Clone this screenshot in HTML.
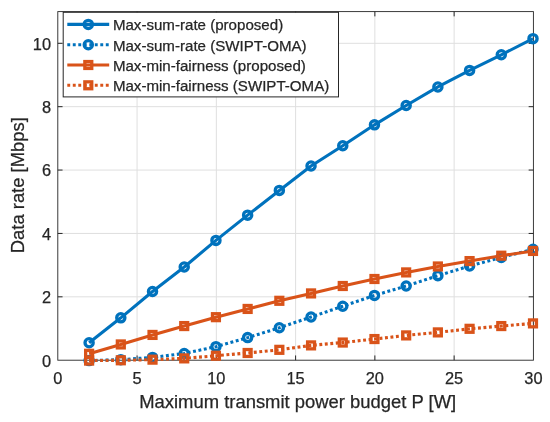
<!DOCTYPE html><html><head><meta charset="utf-8"><title>Data rate vs power budget</title>
<style>html,body{margin:0;padding:0;background:#fff;}svg{display:block;}text{font-family:"Liberation Sans",Arial,Helvetica,sans-serif;fill:#262626;stroke:#262626;stroke-width:0.25px;}</style></head><body>
<svg width="550" height="422" viewBox="0 0 550 422">
<rect width="550" height="422" fill="#fff"/>
<path d="M137.07 11.61V360.20M216.33 11.61V360.20M295.60 11.61V360.20M374.87 11.61V360.20M454.13 11.61V360.20M57.80 296.82H533.40M57.80 233.44H533.40M57.80 170.06H533.40M57.80 106.68H533.40M57.80 43.30H533.40" stroke="#dfdfdf" stroke-width="1" fill="none"/>
<rect x="57.80" y="11.61" width="475.60" height="348.59" fill="none" stroke="#262626" stroke-width="0.9"/>
<path d="M137.07 360.20v-4.75M137.07 11.61v4.75M216.33 360.20v-4.75M216.33 11.61v4.75M295.60 360.20v-4.75M295.60 11.61v4.75M374.87 360.20v-4.75M374.87 11.61v4.75M454.13 360.20v-4.75M454.13 11.61v4.75M57.80 296.82h4.75M533.40 296.82h-4.75M57.80 233.44h4.75M533.40 233.44h-4.75M57.80 170.06h4.75M533.40 170.06h-4.75M57.80 106.68h4.75M533.40 106.68h-4.75M57.80 43.30h4.75M533.40 43.30h-4.75" stroke="#262626" stroke-width="1" fill="none"/>
<polyline points="89.11,342.70 120.81,317.82 152.52,291.52 184.23,266.99 215.93,240.40 247.64,215.14 279.35,190.42 311.05,166.02 342.76,145.74 374.47,124.83 406.17,105.50 437.88,86.96 469.59,70.41 501.29,54.79 533.00,38.63" fill="none" stroke="#0072BD" stroke-width="3.1" stroke-linejoin="round"/>
<circle cx="89.11" cy="342.70" r="4.1" fill="none" stroke="#0072BD" stroke-width="3.3"/>
<circle cx="120.81" cy="317.82" r="4.1" fill="none" stroke="#0072BD" stroke-width="3.3"/>
<circle cx="152.52" cy="291.52" r="4.1" fill="none" stroke="#0072BD" stroke-width="3.3"/>
<circle cx="184.23" cy="266.99" r="4.1" fill="none" stroke="#0072BD" stroke-width="3.3"/>
<circle cx="215.93" cy="240.40" r="4.1" fill="none" stroke="#0072BD" stroke-width="3.3"/>
<circle cx="247.64" cy="215.14" r="4.1" fill="none" stroke="#0072BD" stroke-width="3.3"/>
<circle cx="279.35" cy="190.42" r="4.1" fill="none" stroke="#0072BD" stroke-width="3.3"/>
<circle cx="311.05" cy="166.02" r="4.1" fill="none" stroke="#0072BD" stroke-width="3.3"/>
<circle cx="342.76" cy="145.74" r="4.1" fill="none" stroke="#0072BD" stroke-width="3.3"/>
<circle cx="374.47" cy="124.83" r="4.1" fill="none" stroke="#0072BD" stroke-width="3.3"/>
<circle cx="406.17" cy="105.50" r="4.1" fill="none" stroke="#0072BD" stroke-width="3.3"/>
<circle cx="437.88" cy="86.96" r="4.1" fill="none" stroke="#0072BD" stroke-width="3.3"/>
<circle cx="469.59" cy="70.41" r="4.1" fill="none" stroke="#0072BD" stroke-width="3.3"/>
<circle cx="501.29" cy="54.79" r="4.1" fill="none" stroke="#0072BD" stroke-width="3.3"/>
<circle cx="533.00" cy="38.63" r="4.1" fill="none" stroke="#0072BD" stroke-width="3.3"/>
<polyline points="89.11,360.60 120.81,359.65 152.52,357.43 184.23,353.47 215.93,346.66 247.64,337.62 279.35,327.80 311.05,316.99 342.76,306.25 374.47,295.41 406.17,286.00 437.88,275.67 469.59,266.01 501.29,257.42 533.00,249.37" fill="none" stroke="#0072BD" stroke-width="3.1" stroke-linejoin="round" stroke-dasharray="2.9 2.6"/>
<circle cx="89.11" cy="360.60" r="4.1" fill="none" stroke="#0072BD" stroke-width="3.3"/>
<circle cx="120.81" cy="359.65" r="4.1" fill="none" stroke="#0072BD" stroke-width="3.3"/>
<circle cx="152.52" cy="357.43" r="4.1" fill="none" stroke="#0072BD" stroke-width="3.3"/>
<circle cx="184.23" cy="353.47" r="4.1" fill="none" stroke="#0072BD" stroke-width="3.3"/>
<circle cx="215.93" cy="346.66" r="4.1" fill="none" stroke="#0072BD" stroke-width="3.3"/>
<circle cx="247.64" cy="337.62" r="4.1" fill="none" stroke="#0072BD" stroke-width="3.3"/>
<circle cx="279.35" cy="327.80" r="4.1" fill="none" stroke="#0072BD" stroke-width="3.3"/>
<circle cx="311.05" cy="316.99" r="4.1" fill="none" stroke="#0072BD" stroke-width="3.3"/>
<circle cx="342.76" cy="306.25" r="4.1" fill="none" stroke="#0072BD" stroke-width="3.3"/>
<circle cx="374.47" cy="295.41" r="4.1" fill="none" stroke="#0072BD" stroke-width="3.3"/>
<circle cx="406.17" cy="286.00" r="4.1" fill="none" stroke="#0072BD" stroke-width="3.3"/>
<circle cx="437.88" cy="275.67" r="4.1" fill="none" stroke="#0072BD" stroke-width="3.3"/>
<circle cx="469.59" cy="266.01" r="4.1" fill="none" stroke="#0072BD" stroke-width="3.3"/>
<circle cx="501.29" cy="257.42" r="4.1" fill="none" stroke="#0072BD" stroke-width="3.3"/>
<circle cx="533.00" cy="249.37" r="4.1" fill="none" stroke="#0072BD" stroke-width="3.3"/>
<polyline points="89.11,353.79 120.81,344.44 152.52,334.93 184.23,326.06 215.93,317.18 247.64,308.95 279.35,300.80 311.05,293.42 342.76,286.00 374.47,279.00 406.17,272.41 437.88,266.48 469.59,261.09 501.29,255.71 533.00,250.95" fill="none" stroke="#D95319" stroke-width="3.1" stroke-linejoin="round"/>
<rect x="85.66" y="350.34" width="6.9" height="6.9" fill="none" stroke="#D95319" stroke-width="3.3"/>
<rect x="117.36" y="340.99" width="6.9" height="6.9" fill="none" stroke="#D95319" stroke-width="3.3"/>
<rect x="149.07" y="331.48" width="6.9" height="6.9" fill="none" stroke="#D95319" stroke-width="3.3"/>
<rect x="180.78" y="322.61" width="6.9" height="6.9" fill="none" stroke="#D95319" stroke-width="3.3"/>
<rect x="212.48" y="313.73" width="6.9" height="6.9" fill="none" stroke="#D95319" stroke-width="3.3"/>
<rect x="244.19" y="305.50" width="6.9" height="6.9" fill="none" stroke="#D95319" stroke-width="3.3"/>
<rect x="275.90" y="297.35" width="6.9" height="6.9" fill="none" stroke="#D95319" stroke-width="3.3"/>
<rect x="307.60" y="289.97" width="6.9" height="6.9" fill="none" stroke="#D95319" stroke-width="3.3"/>
<rect x="339.31" y="282.55" width="6.9" height="6.9" fill="none" stroke="#D95319" stroke-width="3.3"/>
<rect x="371.02" y="275.55" width="6.9" height="6.9" fill="none" stroke="#D95319" stroke-width="3.3"/>
<rect x="402.72" y="268.96" width="6.9" height="6.9" fill="none" stroke="#D95319" stroke-width="3.3"/>
<rect x="434.43" y="263.03" width="6.9" height="6.9" fill="none" stroke="#D95319" stroke-width="3.3"/>
<rect x="466.14" y="257.64" width="6.9" height="6.9" fill="none" stroke="#D95319" stroke-width="3.3"/>
<rect x="497.84" y="252.26" width="6.9" height="6.9" fill="none" stroke="#D95319" stroke-width="3.3"/>
<rect x="529.55" y="247.50" width="6.9" height="6.9" fill="none" stroke="#D95319" stroke-width="3.3"/>
<polyline points="89.11,360.60 120.81,360.28 152.52,359.65 184.23,358.38 215.93,355.72 247.64,352.99 279.35,349.83 311.05,345.39 342.76,342.54 374.47,339.05 406.17,335.41 437.88,332.40 469.59,328.81 501.29,326.06 533.00,323.40" fill="none" stroke="#D95319" stroke-width="3.1" stroke-linejoin="round" stroke-dasharray="2.9 2.6"/>
<rect x="85.66" y="357.15" width="6.9" height="6.9" fill="none" stroke="#D95319" stroke-width="3.3"/>
<rect x="117.36" y="356.83" width="6.9" height="6.9" fill="none" stroke="#D95319" stroke-width="3.3"/>
<rect x="149.07" y="356.20" width="6.9" height="6.9" fill="none" stroke="#D95319" stroke-width="3.3"/>
<rect x="180.78" y="354.93" width="6.9" height="6.9" fill="none" stroke="#D95319" stroke-width="3.3"/>
<rect x="212.48" y="352.27" width="6.9" height="6.9" fill="none" stroke="#D95319" stroke-width="3.3"/>
<rect x="244.19" y="349.54" width="6.9" height="6.9" fill="none" stroke="#D95319" stroke-width="3.3"/>
<rect x="275.90" y="346.38" width="6.9" height="6.9" fill="none" stroke="#D95319" stroke-width="3.3"/>
<rect x="307.60" y="341.94" width="6.9" height="6.9" fill="none" stroke="#D95319" stroke-width="3.3"/>
<rect x="339.31" y="339.09" width="6.9" height="6.9" fill="none" stroke="#D95319" stroke-width="3.3"/>
<rect x="371.02" y="335.60" width="6.9" height="6.9" fill="none" stroke="#D95319" stroke-width="3.3"/>
<rect x="402.72" y="331.96" width="6.9" height="6.9" fill="none" stroke="#D95319" stroke-width="3.3"/>
<rect x="434.43" y="328.95" width="6.9" height="6.9" fill="none" stroke="#D95319" stroke-width="3.3"/>
<rect x="466.14" y="325.36" width="6.9" height="6.9" fill="none" stroke="#D95319" stroke-width="3.3"/>
<rect x="497.84" y="322.61" width="6.9" height="6.9" fill="none" stroke="#D95319" stroke-width="3.3"/>
<rect x="529.55" y="319.95" width="6.9" height="6.9" fill="none" stroke="#D95319" stroke-width="3.3"/>
<text x="57.80" y="383.5" font-size="16.4" text-anchor="middle">0</text>
<text x="137.07" y="383.5" font-size="16.4" text-anchor="middle">5</text>
<text x="216.33" y="383.5" font-size="16.4" text-anchor="middle">10</text>
<text x="295.60" y="383.5" font-size="16.4" text-anchor="middle">15</text>
<text x="374.87" y="383.5" font-size="16.4" text-anchor="middle">20</text>
<text x="454.13" y="383.5" font-size="16.4" text-anchor="middle">25</text>
<text x="533.40" y="383.5" font-size="16.4" text-anchor="middle">30</text>
<text x="51.0" y="366.50" font-size="16.4" text-anchor="end">0</text>
<text x="51.0" y="303.12" font-size="16.4" text-anchor="end">2</text>
<text x="51.0" y="239.74" font-size="16.4" text-anchor="end">4</text>
<text x="51.0" y="176.36" font-size="16.4" text-anchor="end">6</text>
<text x="51.0" y="112.98" font-size="16.4" text-anchor="end">8</text>
<text x="51.0" y="49.60" font-size="16.4" text-anchor="end">10</text>
<text x="139.2" y="408.3" font-size="18.43">Maximum transmit power budget P [W]</text>
<text transform="translate(24.3 253.2) rotate(-90)" font-size="18.4">Data rate [Mbps]</text>
<rect x="63.2" y="12.3" width="275.30" height="84.60" fill="#fff" stroke="#262626" stroke-width="1"/>
<path d="M67.3 24.4H109.2" stroke="#0072BD" stroke-width="3.1" fill="none"/>
<circle cx="88.30" cy="24.40" r="4.1" fill="none" stroke="#0072BD" stroke-width="3.3"/>
<text x="112.9" y="30" font-size="15.1" fill="#000">Max-sum-rate (proposed)</text>
<path d="M67.3 44.7H109.2" stroke="#0072BD" stroke-width="3.1" fill="none" stroke-dasharray="2.9 2.6"/>
<circle cx="88.30" cy="44.70" r="4.1" fill="none" stroke="#0072BD" stroke-width="3.3"/>
<text x="112.9" y="51" font-size="15.1" fill="#000">Max-sum-rate (SWIPT-OMA)</text>
<path d="M67.3 65.0H109.2" stroke="#D95319" stroke-width="3.1" fill="none"/>
<rect x="84.85" y="61.55" width="6.9" height="6.9" fill="none" stroke="#D95319" stroke-width="3.3"/>
<text x="112.9" y="71" font-size="15.1" fill="#000">Max-min-fairness (proposed)</text>
<path d="M67.3 85.3H109.2" stroke="#D95319" stroke-width="3.1" fill="none" stroke-dasharray="2.9 2.6"/>
<rect x="84.85" y="81.85" width="6.9" height="6.9" fill="none" stroke="#D95319" stroke-width="3.3"/>
<text x="112.9" y="91" font-size="15.1" fill="#000">Max-min-fairness (SWIPT-OMA)</text>
</svg></body></html>
